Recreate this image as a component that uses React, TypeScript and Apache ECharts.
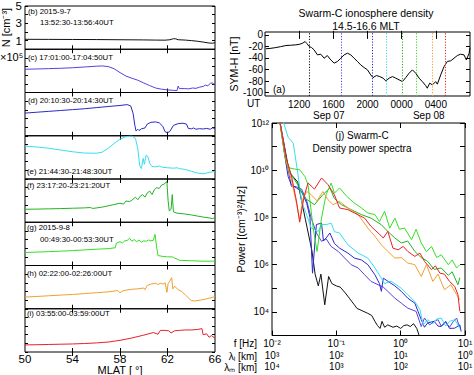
import React, { useEffect, useRef } from "react";
import * as echarts from "echarts";

const FONT = "'Liberation Sans', Arial, Helvetica, sans-serif";

// ---------- Left column: Swarm-C electron density along MLAT (units of 1e5 cm^-3) ----------
const mlatTicks = [50, 54, 58, 62, 66];
const mlatInnerTicks = [54, 58, 62];
const densityLabelTicks = [1, 3, 5];

const densB: [number, number][] = [[50,1.15],[52,1.14],[54,1.13],[56,1.12],[58,1.1],[60,1.08],[61,1.06],[61.8,1.05],[62.2,1.1],[62.5,1.22],[62.7,1.2],[62.9,1.1],[63.5,1.06],[64,1.0],[64.5,0.93],[65,0.83],[65.5,0.72],[65.8,0.7],[66,0.76]];
const densC: [number, number][] = [[50,2.69],[51,2.72],[52,2.76],[53,2.8],[54,2.86],[55,2.95],[56,3.04],[56.5,3.07],[57,3.0],[57.5,2.75],[58,2.3],[58.5,1.9],[59,1.65],[59.5,1.42],[60,1.1],[60.5,0.8],[61,0.52],[61.5,0.38],[62,0.3],[62.5,0.25],[62.8,0.22],[62.9,0.75],[63,0.45],[63.4,0.45],[63.8,0.42],[64.1,0.52],[64.4,0.48],[64.7,0.62],[65,0.7],[65.2,0.85],[65.4,0.78],[65.6,1.05],[65.8,1.12],[65.9,0.95],[66,1.0]];
const densD: [number, number][] = [[50,2.62],[51,2.72],[52,2.82],[53,2.92],[54,3.02],[55,3.12],[56,3.25],[57,3.38],[58,3.5],[58.6,3.6],[58.9,3.45],[59.1,2.6],[59.25,1.2],[59.35,0.55],[59.5,0.75],[59.6,0.6],[59.8,0.8],[60.1,0.9],[60.3,1.35],[60.6,1.55],[61,1.6],[61.3,1.5],[61.6,1.1],[61.8,0.45],[62,0.35],[62.2,0.5],[62.5,1.2],[62.9,1.4],[63.3,1.45],[63.6,1.35],[63.75,0.85],[64,0.8],[64.2,0.9],[64.4,0.75],[64.7,0.82],[65,0.78],[65.3,0.85],[65.6,0.75],[65.8,0.9],[66,0.85]];
const densE: [number, number][] = [[50,3.8],[51,3.7],[52,3.55],[53,3.35],[54,3.15],[55,3.0],[56,2.98],[56.5,3.1],[57,3.55],[57.5,4.1],[58,4.6],[58.5,4.9],[59,4.95],[59.3,4.7],[59.5,3.5],[59.65,1.6],[59.8,1.2],[59.95,2.4],[60.05,1.7],[60.2,2.75],[60.35,2.6],[60.5,1.8],[60.7,1.45],[61,1.4],[61.3,1.5],[61.5,1.38],[62,1.3],[62.5,1.25],[62.8,1.3],[63,1.2],[63.5,1.1],[64,0.9],[64.5,0.7],[65,0.6],[65.5,0.75],[66,0.9]];
const densF: [number, number][] = [[50,1.5],[51,1.52],[52,1.55],[53,1.58],[54,1.62],[55,1.66],[55.5,1.7],[55.7,1.6],[56,1.65],[56.5,1.75],[57,1.9],[57.5,2.05],[58,2.2],[58.3,2.1],[58.5,2.45],[58.8,2.4],[59,2.55],[59.3,2.9],[59.5,2.6],[59.7,3.0],[59.9,3.2],[60.1,2.9],[60.3,3.4],[60.5,3.6],[60.7,3.2],[60.9,3.8],[61.1,4.0],[61.3,3.9],[61.5,4.3],[61.7,4.4],[61.95,4.7],[62.05,2.5],[62.15,1.3],[62.3,1.5],[62.4,3.2],[62.5,1.2],[62.8,1.05],[63.5,0.95],[64,0.85],[64.5,0.72],[65,0.6],[65.5,0.5],[65.8,0.42],[66,0.55]];
const densG: [number, number][] = [[50,1.5],[51,1.55],[52,1.6],[53,1.66],[54,1.72],[55,1.8],[56,1.88],[57,1.95],[57.6,2.05],[57.7,2.6],[58,2.75],[58.2,2.6],[58.4,2.85],[58.6,2.9],[58.8,3.15],[59.0,2.8],[59.2,3.0],[59.4,2.75],[59.6,2.95],[59.8,2.7],[60.0,2.85],[60.2,2.8],[60.4,2.95],[60.6,2.85],[60.8,2.9],[60.95,3.6],[61.1,2.0],[61.2,1.15],[61.6,1.05],[62,1.0],[62.4,1.0],[62.6,0.85],[62.8,0.75],[63,0.6],[64,0.55],[65,0.5],[66,0.5]];
const densH: [number, number][] = [[50,1.35],[51,1.42],[52,1.5],[53,1.58],[54,1.65],[55,1.75],[56,1.85],[57,1.95],[57.8,2.1],[58.0,1.85],[58.2,2.05],[58.5,2.15],[59,2.25],[59.5,2.3],[60,2.4],[60.1,2.2],[60.3,2.7],[60.6,2.85],[61,2.95],[61.2,2.8],[61.4,2.95],[61.6,2.85],[61.8,3.0],[61.95,1.9],[62.05,2.9],[62.2,3.2],[62.35,3.6],[62.45,2.3],[62.6,2.6],[62.9,2.2],[63.2,2.0],[63.5,1.6],[63.8,1.2],[64,0.95],[64.3,0.9],[64.8,1.0],[65.3,1.15],[66,1.4]];
const densI: [number, number][] = [[50,0.82],[51,0.84],[52,0.87],[53,0.9],[54,0.93],[55,0.98],[56,1.05],[57,1.15],[58,1.35],[59,1.62],[60,1.95],[60.8,2.25],[61.2,2.05],[61.4,2.5],[61.8,2.5],[62.1,2.45],[62.3,2.2],[62.6,2.45],[63,2.5],[63.5,2.55],[64,2.55],[64.5,2.6],[64.9,2.7],[65.0,2.0],[65.3,2.1],[65.5,1.7],[65.7,1.9],[66,1.6]];

const densityPanels = [densB, densC, densD, densE, densF, densG, densH, densI];
const passColors = ["#111111", "#5b3fe0", "#2a2ac8", "#33dff0", "#22b422", "#33e022", "#f0a030", "#e8202a"];

// ---------- Panel (a): SYM-H index ----------
const symH: [number, number][] = [[8.1,-24],[8.6,-23.5],[9.27,-22],[9.8,-20.5],[10.44,-18.5],[11.0,-18],[11.6,-17.3],[12.0,-16.5],[12.39,-14.5],[12.7,-11.6],[12.9,-15],[13.17,-20],[13.45,-22],[13.75,-26],[14.14,-34.7],[14.53,-33.5],[14.92,-40.5],[15.3,-35.8],[15.7,-43.4],[16.1,-49],[16.5,-46],[16.87,-40.5],[17.26,-34.7],[17.65,-31.8],[18.04,-34.7],[18.43,-40.5],[18.82,-46],[19.2,-52],[19.6,-56.6],[20.0,-60.7],[20.38,-69.4],[20.65,-74],[21.04,-70.5],[21.43,-72.3],[21.82,-75],[22.14,-79.8],[22.53,-75],[22.92,-72.3],[23.3,-75],[23.7,-78],[24.09,-81],[24.48,-74],[24.87,-66.5],[25.26,-60.7],[25.65,-66.5],[26.04,-75],[26.42,-81],[26.81,-87.9],[27.0,-92.5],[27.28,-83.8],[27.6,-86.7],[27.98,-81],[28.18,-85.5],[28.57,-69.4],[28.96,-55],[29.35,-46],[29.74,-45],[30.13,-40.5],[30.52,-35.8],[30.9,-33.5],[31.3,-34.7],[31.57,-43.4],[31.9,-31.8],[32.0,-22]];
const passTimes = [13.17, 16.88, 20.5, 22.14, 24.01, 25.73, 27.6, 29.16];
const utTicks = [12, 16, 20, 24, 28];
const utLabels = ["1200", "1600", "2000", "0000", "0400"];
const dateTicks = [15.47, 27.17];
const dateLabels = ["Sep 07", "Sep 08"];
const symhTicks = [0, -20, -40, -60, -80, -100];

// ---------- Panel (j): density power spectra, [log10 f (Hz), log10 power] ----------
const specBlack: [number, number][] = [[-1.88,12.1],[-1.73,9.9],[-1.6,9.5],[-1.48,7.9],[-1.38,6.6],[-1.33,5.6],[-1.28,5.1],[-1.24,5.6],[-1.18,4.3],[-1.12,5.5],[-1.07,5.2],[-1.0,5.1],[-0.94,5.05],[-0.86,4.8],[-0.79,4.55],[-0.72,4.3],[-0.68,4.15],[-0.6,4.05],[-0.52,3.95],[-0.45,3.85],[-0.4,3.6],[-0.36,3.42],[-0.32,3.3],[-0.29,3.6],[-0.25,3.35],[-0.2,3.45],[-0.12,3.35],[-0.06,3.4],[0.0,3.3],[0.05,3.42],[0.1,3.45],[0.15,3.38],[0.2,3.5],[0.25,3.3],[0.3,2.9]];
const specViolet: [number, number][] = [[-1.88,12.1],[-1.78,10.5],[-1.7,9.32],[-1.62,9.3],[-1.54,9.2],[-1.46,8.7],[-1.39,7.97],[-1.31,7.34],[-1.23,6.99],[-1.16,7.1],[-1.08,6.77],[-0.97,6.56],[-0.87,6.28],[-0.77,6.0],[-0.66,5.86],[-0.56,5.57],[-0.46,5.29],[-0.35,5.15],[-0.27,5.05],[-0.2,4.87],[-0.09,4.58],[0.01,4.37],[0.11,4.16],[0.24,4.02],[0.32,3.38],[0.37,3.74],[0.45,3.45],[0.52,3.6],[0.58,3.67],[0.63,3.4],[0.7,3.55],[0.76,3.35],[0.82,3.6],[0.87,3.74],[0.92,3.3]];
const specBlue: [number, number][] = [[-1.88,12.1],[-1.8,10.6],[-1.75,9.74],[-1.7,9.39],[-1.62,9.25],[-1.54,9.1],[-1.46,8.6],[-1.41,8.0],[-1.37,5.64],[-1.31,7.7],[-1.23,7.76],[-1.2,7.0],[-1.16,7.13],[-1.1,7.34],[-1.03,6.9],[-0.95,6.7],[-0.82,6.49],[-0.72,6.28],[-0.61,6.2],[-0.51,6.0],[-0.4,5.57],[-0.33,5.2],[-0.3,4.87],[-0.27,5.43],[-0.2,5.3],[-0.09,5.1],[0.01,4.87],[0.11,4.58],[0.22,4.37],[0.27,4.02],[0.32,3.67],[0.37,3.35],[0.42,3.53],[0.52,3.6],[0.58,3.4],[0.63,3.38],[0.7,3.6],[0.76,3.3],[0.84,3.31],[0.92,3.45],[0.94,3.17]];
const specCyan: [number, number][] = [[-1.83,12.1],[-1.75,11.4],[-1.67,11.15],[-1.6,9.9],[-1.54,8.68],[-1.46,8.1],[-1.39,7.55],[-1.28,7.4],[-1.23,7.7],[-1.15,7.7],[-1.08,7.76],[-1.03,7.4],[-0.95,7.34],[-0.82,6.84],[-0.66,6.49],[-0.51,6.28],[-0.4,5.86],[-0.3,5.43],[-0.25,5.2],[-0.15,5.3],[0.01,5.0],[0.11,4.73],[0.22,4.44],[0.3,4.09],[0.35,3.45],[0.42,3.67],[0.5,3.5],[0.56,3.7],[0.63,3.74],[0.7,3.4],[0.76,3.6],[0.84,3.67],[0.92,3.31]];
const specGreenF: [number, number][] = [[-1.88,12.1],[-1.78,10.3],[-1.7,9.81],[-1.6,9.39],[-1.49,8.82],[-1.34,8.54],[-1.21,8.96],[-1.1,9.25],[-1.03,8.8],[-0.92,8.54],[-0.77,8.33],[-0.61,8.12],[-0.46,7.97],[-0.3,7.69],[-0.2,7.41],[-0.09,7.13],[0.01,6.92],[0.11,7.0],[0.22,6.56],[0.32,6.3],[0.42,6.14],[0.52,5.8],[0.63,5.86],[0.74,5.55],[0.8,5.7],[0.89,5.15],[0.92,5.45]];
const specGreenG: [number, number][] = [[-1.88,12.1],[-1.8,10.6],[-1.73,10.1],[-1.65,10.05],[-1.57,10.02],[-1.49,9.74],[-1.44,9.39],[-1.36,7.55],[-1.3,6.56],[-1.23,7.97],[-1.16,8.96],[-1.08,9.46],[-1.03,9.03],[-0.95,9.25],[-0.84,8.9],[-0.72,8.61],[-0.61,8.4],[-0.51,8.19],[-0.4,8.12],[-0.33,7.83],[-0.25,8.26],[-0.17,7.55],[-0.09,7.97],[-0.02,7.5],[0.06,7.55],[0.17,7.06],[0.24,7.5],[0.32,6.92],[0.4,6.55],[0.48,6.77],[0.56,6.3],[0.63,6.42],[0.74,6.0],[0.8,6.2],[0.87,5.86],[0.92,6.0]];
const specOrange: [number, number][] = [[-1.88,12.1],[-1.78,10.4],[-1.7,9.6],[-1.62,8.6],[-1.57,7.9],[-1.52,8.8],[-1.46,9.1],[-1.39,8.96],[-1.3,8.7],[-1.21,9.1],[-1.13,8.75],[-1.05,8.54],[-0.95,8.68],[-0.82,8.4],[-0.66,8.12],[-0.51,7.55],[-0.4,7.2],[-0.3,6.84],[-0.2,6.56],[-0.09,6.28],[0.01,6.3],[0.11,6.07],[0.22,6.0],[0.32,5.5],[0.4,6.0],[0.5,5.29],[0.58,5.6],[0.68,4.94],[0.78,5.15],[0.87,4.73],[0.92,4.51]];
const specRed: [number, number][] = [[-1.88,12.1],[-1.78,10.5],[-1.7,9.8],[-1.62,8.7],[-1.57,7.8],[-1.5,8.9],[-1.44,9.46],[-1.34,9.2],[-1.23,9.67],[-1.13,9.39],[-1.03,8.96],[-0.95,8.4],[-0.82,8.33],[-0.72,8.19],[-0.56,7.97],[-0.46,7.62],[-0.35,7.34],[-0.27,7.13],[-0.2,7.41],[-0.12,6.7],[-0.04,6.63],[0.04,6.77],[0.11,6.56],[0.22,6.35],[0.3,6.49],[0.37,6.14],[0.48,5.79],[0.54,5.95],[0.61,5.64],[0.68,5.6],[0.76,5.29],[0.84,5.08],[0.89,4.73],[0.92,4.02]];
const spectra = [specBlack, specViolet, specBlue, specCyan, specGreenF, specGreenG, specOrange, specRed];

const freqLabels = ["10⁻²", "10⁻¹", "10⁰", "10¹"];
const lambdaILabels = ["10³", "10²", "10¹", "10⁰"];
const lambdaMLabels = ["10⁴", "10³", "10²", "10¹"];

const SUP: Record<string, string> = { "-": "⁻", "0": "⁰", "1": "¹", "2": "²", "3": "³", "4": "⁴", "5": "⁵", "6": "⁶", "7": "⁷", "8": "⁸", "9": "⁹" };
const sup = (n: number) => String(n).split("").map((c) => SUP[c] || c).join("");

function buildOption() {
  const grids: any[] = [];
  const xAxes: any[] = [];
  const yAxes: any[] = [];
  const series: any[] = [];
  const graphics: any[] = [];
  const tick = (len: number, extra: any = {}) => ({ show: true, inside: true, length: len, lineStyle: { color: "#000", width: 1 }, ...extra });
  const noLine = { show: false };
  const noSplit = { show: false };
  const txt = (text: string, x: number, y: number, size: number, extra: any = {}) => ({
    type: "text", x, y, silent: true,
    style: { text, fill: "#000", fontSize: size, fontFamily: FONT, align: "left", verticalAlign: "middle", ...extra },
  });

  // ---- left density panels
  const TOP0 = 6;
  const PH = 43.25;
  densityPanels.forEach((d, i) => {
    grids.push({ left: 25, top: TOP0 + i * PH, width: 190, height: PH, show: true, borderColor: "#000", borderWidth: 1, outerBoundsMode: "none" });
    const last = i === densityPanels.length - 1;
    xAxes.push({
      type: "value", gridIndex: i, min: 50, max: 66, position: "bottom",
      axisLine: noLine, splitLine: noSplit,
      axisTick: tick(4, { customValues: mlatInnerTicks }),
      axisLabel: { show: last, customValues: mlatTicks, color: "#000", fontSize: 11.5, fontFamily: FONT, margin: 0.5 },
    });
    xAxes.push({
      type: "value", gridIndex: i, min: 50, max: 66, position: "top",
      axisLine: noLine, splitLine: noSplit,
      axisTick: tick(4, { customValues: mlatInnerTicks }),
      axisLabel: { show: false, customValues: mlatInnerTicks },
    });
    yAxes.push({
      type: "value", gridIndex: i, min: 0, max: 5, interval: 1, position: "left",
      axisLine: noLine, splitLine: noSplit, axisTick: tick(3),
      axisLabel: i === 0 ? { show: true, customValues: densityLabelTicks, color: "#000", fontSize: 11.5, fontFamily: FONT, margin: 3 } : { show: false },
      name: i === 0 ? "N [cm⁻³]" : "", nameLocation: "middle", nameGap: 11, nameRotate: 90,
      nameTextStyle: { color: "#000", fontSize: 11, fontFamily: FONT },
    });
    yAxes.push({
      type: "value", gridIndex: i, min: 0, max: 5, interval: 1, position: "right",
      axisLine: noLine, splitLine: noSplit, axisTick: tick(3), axisLabel: { show: false },
    });
    series.push({
      type: "line", xAxisIndex: 2 * i, yAxisIndex: 2 * i, data: d, showSymbol: false, symbol: "none",
      lineStyle: { color: passColors[i], width: 1 }, silent: true, clip: true,
    });
  });

  // ---- panel (a)
  const gA = grids.length;
  grids.push({ left: 265, top: 32, width: 205, height: 64, show: true, borderColor: "#000", borderWidth: 1, outerBoundsMode: "none" });
  const xA = xAxes.length;
  xAxes.push({
    type: "value", gridIndex: gA, min: 8, max: 32, position: "bottom",
    axisLine: noLine, splitLine: noSplit, axisTick: tick(4, { customValues: utTicks }),
    axisLabel: { customValues: utTicks, formatter: (v: number) => utLabels[utTicks.indexOf(Math.round(v))] ?? "", color: "#000", fontSize: 10, fontFamily: FONT, margin: 3 },
  });
  xAxes.push({
    type: "value", gridIndex: gA, min: 8, max: 32, position: "top",
    axisLine: noLine, splitLine: noSplit, axisTick: tick(4, { customValues: utTicks }), axisLabel: { show: false, customValues: utTicks },
  });
  xAxes.push({
    type: "value", gridIndex: gA, min: 8, max: 32, position: "bottom", offset: 11,
    axisLine: noLine, splitLine: noSplit, axisTick: { show: false },
    axisLabel: { customValues: dateTicks, formatter: (v: number) => dateLabels[v < 20 ? 0 : 1], color: "#000", fontSize: 10, fontFamily: FONT, margin: 3 },
  });
  const yA = yAxes.length;
  yAxes.push({
    type: "value", gridIndex: gA, min: -106, max: 5, position: "left",
    axisLine: noLine, splitLine: noSplit, axisTick: tick(4, { customValues: symhTicks }),
    axisLabel: { customValues: symhTicks, color: "#000", fontSize: 10, fontFamily: FONT, margin: 2 },
    name: "SYM-H [nT]", nameLocation: "middle", nameGap: 21, nameRotate: 90,
    nameTextStyle: { color: "#000", fontSize: 10.5, fontFamily: FONT },
  });
  yAxes.push({
    type: "value", gridIndex: gA, min: -106, max: 5, position: "right",
    axisLine: noLine, splitLine: noSplit, axisTick: tick(4, { customValues: symhTicks }), axisLabel: { show: false, customValues: symhTicks },
  });
  series.push({
    type: "line", xAxisIndex: xA, yAxisIndex: yA, data: symH, showSymbol: false, symbol: "none",
    lineStyle: { color: "#000", width: 1 }, silent: true,
    markLine: {
      silent: true, symbol: ["none", "none"], label: { show: false },
      data: passTimes.map((t, k) => ({ xAxis: t, lineStyle: { color: passColors[k], type: [1.2, 1.6], width: 1 } })),
    },
  });

  // ---- panel (j)
  const gJ = grids.length;
  grids.push({ left: 272, top: 123, width: 193, height: 212.5, show: true, borderColor: "#000", borderWidth: 1, outerBoundsMode: "none" });
  const decadeIdx = (v: number) => Math.round(Math.log10(v)) + 2;
  const xJ = xAxes.length;
  const logX = (extra: any) => ({ type: "log", logBase: 10, gridIndex: gJ, min: 0.01, max: 10, axisLine: noLine, splitLine: noSplit, ...extra });
  xAxes.push(logX({
    position: "bottom", axisTick: tick(5),
    axisLabel: { formatter: (v: number) => freqLabels[decadeIdx(v)] ?? "", color: "#000", fontSize: 10, fontFamily: FONT, margin: 3 },
  }));
  xAxes.push(logX({ position: "top", axisTick: tick(5), axisLabel: { show: false } }));
  xAxes.push(logX({
    position: "bottom", offset: 12, axisTick: { show: false },
    axisLabel: { formatter: (v: number) => lambdaILabels[decadeIdx(v)] ?? "", color: "#000", fontSize: 10, fontFamily: FONT, margin: 3 },
  }));
  xAxes.push(logX({
    position: "bottom", offset: 23, axisTick: { show: false },
    axisLabel: { formatter: (v: number) => lambdaMLabels[decadeIdx(v)] ?? "", color: "#000", fontSize: 10, fontFamily: FONT, margin: 3 },
  }));
  const yJ = yAxes.length;
  yAxes.push({
    type: "log", logBase: 10, gridIndex: gJ, min: 1e3, max: 1e12, position: "left",
    axisLine: noLine, splitLine: noSplit, axisTick: tick(5),
    axisLabel: {
      formatter: (v: number) => { const e = Math.round(Math.log10(v)); return e % 2 === 0 ? "10" + sup(e) : ""; },
      color: "#000", fontSize: 10, fontFamily: FONT, margin: 3,
    },
    name: "Power [(cm⁻³)²/Hz]", nameLocation: "middle", nameGap: 21, nameRotate: 90,
    nameTextStyle: { color: "#000", fontSize: 10.5, fontFamily: FONT },
  });
  yAxes.push({
    type: "log", logBase: 10, gridIndex: gJ, min: 1e3, max: 1e12, position: "right",
    axisLine: noLine, splitLine: noSplit, axisTick: tick(5), axisLabel: { show: false },
  });
  spectra.forEach((s, k) => {
    series.push({
      type: "line", xAxisIndex: xJ, yAxisIndex: yJ, showSymbol: false, symbol: "none", silent: true, clip: true,
      data: s.map(([lf, lp]) => [Math.pow(10, lf), Math.pow(10, lp)]),
      lineStyle: { color: passColors[k], width: 1 },
    });
  });

  // ---- annotation texts
  const pl = 7.8;
  graphics.push(txt("(b) 2015-9-7", 28, 11.5, pl));
  graphics.push(txt("13:52:30-13:56:40UT", 40, 22, pl));
  graphics.push(txt("(c) 17:01:00-17:04:50UT", 28, 57.5, pl));
  graphics.push(txt("(d) 20:10:30-20:14:30UT", 28, 100.5, pl));
  graphics.push(txt("(e) 21:44:30-21:48:30UT", 27, 171.5, pl));
  graphics.push(txt("(f) 23:17:20-23:21:20UT", 27, 185.5, pl));
  graphics.push(txt("(g) 2015-9-8", 27, 227, pl));
  graphics.push(txt("00:49:30-00:53:30UT", 40, 239, pl));
  graphics.push(txt("(h) 02:22:00-02:26:00UT", 27, 273, pl));
  graphics.push(txt("(i) 03:55:00-03:59:00UT", 27, 313.5, pl));
  graphics.push(txt("MLAT [ °]", 120, 369.5, 11, { align: "center" }));
  graphics.push(txt("×10⁵", 0, 57, 11));
  graphics.push(txt("Swarm-C ionosphere density", 366, 13, 10.5, { align: "center" }));
  graphics.push(txt("14.5-16.6 MLT", 366, 26, 10.5, { align: "center" }));
  graphics.push(txt("(a)", 273, 89, 10));
  graphics.push(txt("UT", 247, 103, 10));
  graphics.push(txt("(j) Swarm-C", 362, 135, 10, { align: "center" }));
  graphics.push(txt("Density power spectra", 362, 148, 10, { align: "center" }));
  graphics.push(txt("f [Hz]", 257, 343.5, 10, { align: "right" }));
  graphics.push(txt("λᵢ [km]", 257, 356, 10, { align: "right" }));
  graphics.push(txt("λₘ [km]", 257, 367, 10, { align: "right" }));

  return {
    animation: false,
    backgroundColor: "#ffffff",
    textStyle: { fontFamily: FONT },
    grid: grids,
    xAxis: xAxes,
    yAxis: yAxes,
    series,
    graphic: graphics,
  };
}

export default function App() {
  const ref = useRef<HTMLDivElement>(null);
  useEffect(() => {
    if (!ref.current) return;
    const chart = echarts.init(ref.current, undefined, { renderer: "svg" });
    chart.setOption(buildOption() as any);
    return () => chart.dispose();
  }, []);
  return <div ref={ref} style={{ position: "fixed", left: 0, top: 0, width: 474, height: 375, background: "#fff" }} />;
}
